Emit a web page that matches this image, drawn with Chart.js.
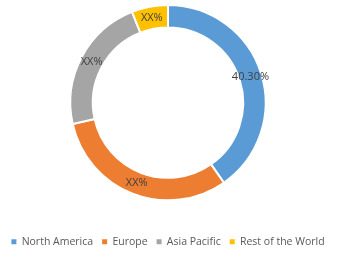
<!DOCTYPE html>
<html lang="en">
<head>
  <meta charset="UTF-8" />
  <title>Regional Share</title>
  <script src="https://cdn.jsdelivr.net/npm/chart.js"></script>
  <style>
    html, body { margin: 0; padding: 0; background: #fff; }
    #wrap { width: 344px; height: 262px; }
  </style>
</head>
<body>
  <div id="wrap"><canvas id="shareChart"></canvas></div>

  <script>
    // data
    const regions = ['North America', 'Europe', 'Asia Pacific', 'Rest of the World'];
    const shares = [40.3, 31.2, 22.5, 6.0];
    const shareLabels = ['40.30%', 'XX%', 'XX%', 'XX%'];
    const colors = ['#5B9BD5', '#ED7D31', '#A5A5A5', '#FFC000'];

    // write the % text in the middle of each ring piece
    const sliceLabels = {
      id: 'sliceLabels',
      afterDatasetsDraw(chart) {
        const ctx = chart.ctx;
        const meta = chart.getDatasetMeta(0);
        ctx.save();
        ctx.font = '11px "Open Sans", sans-serif';
        ctx.fillStyle = '#404040';
        ctx.textAlign = 'center';
        ctx.textBaseline = 'middle';
        meta.data.forEach(function (arc, i) {
          const p = arc.getProps(['x', 'y', 'startAngle', 'endAngle', 'innerRadius', 'outerRadius'], true);
          const a = (p.startAngle + p.endAngle) / 2;
          const r = (p.innerRadius + p.outerRadius) / 2;
          ctx.fillText(shareLabels[i], p.x + Math.cos(a) * r, p.y + Math.sin(a) * r);
        });
        ctx.restore();
      }
    };

    new Chart(document.getElementById('shareChart'), {
      type: 'doughnut',
      data: {
        labels: regions,
        datasets: [{
          data: shares,
          backgroundColor: colors,
          borderColor: '#ffffff',
          borderWidth: 2
        }]
      },
      options: {
        responsive: true,
        maintainAspectRatio: false,
        animation: false,
        cutout: '77%',
        layout: { padding: { top: 4, left: 0, right: 8, bottom: 5 } },
        plugins: {
          tooltip: { enabled: false },
          legend: {
            position: 'bottom',
            // empty title only used to push the legend row down
            title: { display: true, text: '', font: { size: 1 }, padding: { top: 25, bottom: 0 } },
            labels: {
              boxWidth: 5,
              boxHeight: 5,
              padding: 9,
              color: '#595959',
              font: { family: 'Open Sans', size: 10.5 },
              generateLabels(chart) {
                const base = Chart.overrides.doughnut.plugins.legend.labels.generateLabels(chart);
                return base.map(function (item) { item.lineWidth = 0; return item; });
              }
            }
          }
        }
      },
      plugins: [sliceLabels]
    });
  </script>
</body>
</html>
